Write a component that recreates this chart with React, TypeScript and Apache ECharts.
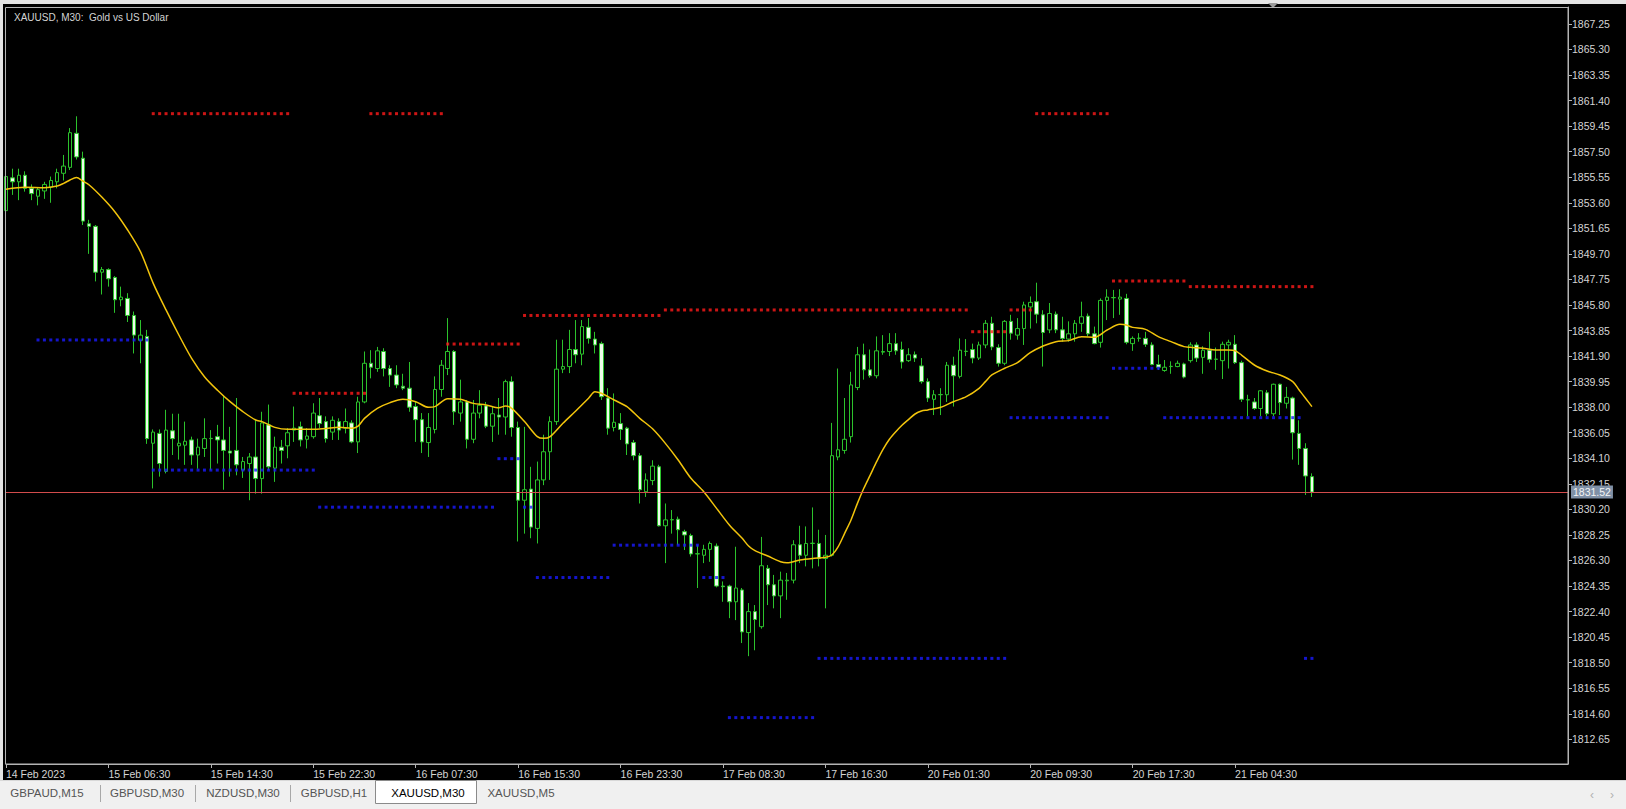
import React, { useEffect, useRef } from "react";
import * as echarts from "echarts";

const xLabels = [
  "14 Feb 2023", "15 Feb 06:30", "15 Feb 14:30", "15 Feb 22:30", "16 Feb 07:30",
  "16 Feb 15:30", "16 Feb 23:30", "17 Feb 08:30", "17 Feb 16:30", "20 Feb 01:30",
  "20 Feb 09:30", "20 Feb 17:30", "21 Feb 04:30",
];

const yTicks = [
  1812.65, 1814.6, 1816.55, 1818.5, 1820.45, 1822.4, 1824.35, 1826.3, 1828.25, 1830.2,
  1832.15, 1834.1, 1836.05, 1838.0, 1839.95, 1841.9, 1843.85, 1845.8, 1847.75, 1849.7,
  1851.65, 1853.6, 1855.55, 1857.5, 1859.45, 1861.4, 1863.35, 1865.3, 1867.25,
];

// [open, close, low, high]
const candles = [
  [1853.0, 1855.6, 1852.8, 1856.3], [1855.5, 1855.2, 1854.2, 1856.2], [1855.2, 1855.7, 1853.8, 1856.2],
  [1855.7, 1854.7, 1854.45, 1856.0], [1854.7, 1854.3, 1853.8, 1855.0], [1854.1, 1854.6, 1853.4, 1854.8],
  [1854.5, 1855.0, 1853.9, 1855.2], [1854.8, 1855.3, 1853.6, 1855.6], [1855.2, 1855.9, 1854.7, 1856.2],
  [1855.85, 1856.4, 1855.3, 1857.25], [1856.3, 1858.95, 1856.1, 1859.3], [1858.9, 1857.1, 1856.9, 1860.2],
  [1857.0, 1852.2, 1851.9, 1857.5], [1852.0, 1851.8, 1849.7, 1852.3], [1851.8, 1848.3, 1847.6, 1851.9],
  [1848.3, 1848.5, 1846.6, 1848.7], [1848.5, 1847.8, 1847.2, 1848.6], [1847.9, 1846.2, 1845.2, 1848.0],
  [1846.2, 1846.4, 1845.7, 1847.2], [1846.3, 1845.0, 1844.5, 1846.7], [1845.0, 1843.5, 1842.1, 1845.3],
  [1843.1, 1843.5, 1841.35, 1844.65], [1843.4, 1835.6, 1835.2, 1843.9], [1835.25, 1836.1, 1831.8, 1836.3],
  [1836.0, 1833.7, 1832.7, 1836.3], [1833.1, 1836.25, 1832.95, 1837.8], [1836.2, 1835.6, 1834.35, 1837.5],
  [1835.05, 1835.25, 1834.0, 1837.5], [1835.1, 1835.4, 1833.6, 1836.9], [1835.5, 1834.35, 1833.6, 1835.75],
  [1834.35, 1834.95, 1833.3, 1835.6], [1834.85, 1835.6, 1834.2, 1837.15], [1835.6, 1835.62, 1833.2, 1836.25],
  [1835.75, 1835.5, 1833.7, 1836.65], [1835.5, 1834.7, 1831.7, 1838.9], [1834.65, 1834.5, 1832.7, 1836.5],
  [1834.7, 1833.6, 1832.8, 1838.7], [1833.2, 1833.85, 1832.6, 1834.2], [1833.7, 1834.2, 1830.9, 1834.5],
  [1834.2, 1832.55, 1831.4, 1837.0], [1832.55, 1836.8, 1831.4, 1837.65], [1836.65, 1833.45, 1833.2, 1838.2],
  [1833.35, 1834.95, 1832.3, 1835.75], [1834.95, 1834.7, 1833.7, 1835.5], [1835.05, 1836.05, 1834.1, 1836.4],
  [1836.25, 1836.4, 1835.35, 1838.05], [1836.5, 1835.5, 1835.0, 1836.9], [1835.55, 1835.8, 1834.85, 1836.4],
  [1835.75, 1837.55, 1835.6, 1838.3], [1837.35, 1836.75, 1836.4, 1838.7], [1836.9, 1835.6, 1835.3, 1837.3],
  [1836.1, 1837.0, 1835.5, 1837.3], [1836.9, 1836.25, 1835.5, 1837.15], [1836.4, 1836.9, 1836.0, 1837.9],
  [1836.8, 1835.35, 1835.25, 1837.0], [1835.35, 1838.4, 1834.5, 1838.8], [1838.4, 1841.35, 1838.3, 1842.25],
  [1841.35, 1841.05, 1840.2, 1842.35], [1840.95, 1842.3, 1840.7, 1842.6], [1842.25, 1840.95, 1840.35, 1842.5],
  [1840.95, 1840.45, 1839.55, 1841.2], [1840.45, 1839.7, 1839.45, 1841.2], [1839.6, 1839.45, 1839.3, 1840.55],
  [1839.45, 1838.0, 1837.65, 1841.45], [1838.05, 1837.05, 1835.35, 1838.4], [1837.05, 1835.35, 1834.5, 1837.55],
  [1835.3, 1836.45, 1834.2, 1837.55], [1836.3, 1839.35, 1836.0, 1840.35], [1839.35, 1841.2, 1838.8, 1841.6],
  [1840.95, 1842.25, 1840.45, 1844.8], [1842.25, 1837.65, 1836.65, 1842.35], [1837.55, 1838.4, 1836.9, 1840.1],
  [1838.4, 1835.55, 1834.85, 1838.55], [1835.55, 1837.55, 1835.25, 1838.55], [1837.55, 1838.15, 1837.15, 1839.3],
  [1838.1, 1836.55, 1836.4, 1838.4], [1836.55, 1837.5, 1835.35, 1838.05], [1837.4, 1837.25, 1835.9, 1838.7],
  [1837.25, 1839.95, 1835.9, 1840.1], [1839.95, 1836.45, 1835.75, 1840.35], [1836.45, 1830.9, 1827.75, 1836.9],
  [1830.9, 1831.7, 1828.35, 1836.5], [1831.75, 1828.85, 1828.0, 1833.45], [1828.75, 1832.45, 1827.6, 1833.85],
  [1832.45, 1834.6, 1832.05, 1835.9], [1834.6, 1836.9, 1832.45, 1837.3], [1836.9, 1840.9, 1836.65, 1843.15],
  [1840.9, 1841.1, 1840.6, 1843.15], [1841.1, 1842.4, 1840.6, 1843.9], [1842.4, 1842.0, 1841.35, 1844.65],
  [1842.05, 1844.15, 1841.2, 1844.65], [1844.1, 1843.25, 1842.85, 1844.8], [1843.2, 1842.75, 1842.1, 1843.75],
  [1842.85, 1838.8, 1838.55, 1843.0], [1838.7, 1836.4, 1835.9, 1839.45], [1836.45, 1836.85, 1836.15, 1839.05],
  [1836.75, 1836.3, 1835.5, 1837.55], [1836.4, 1835.2, 1834.35, 1836.5], [1835.3, 1834.3, 1833.95, 1835.5],
  [1834.3, 1831.7, 1830.65, 1834.5], [1831.55, 1832.45, 1831.15, 1832.95], [1832.4, 1833.5, 1832.05, 1833.95],
  [1833.45, 1828.95, 1828.9, 1833.6], [1828.95, 1829.4, 1826.1, 1830.65], [1829.4, 1829.42, 1828.35, 1830.15],
  [1829.45, 1828.65, 1827.5, 1829.65], [1828.5, 1828.25, 1827.1, 1828.65], [1828.2, 1826.8, 1826.6, 1828.35],
  [1826.8, 1826.82, 1824.2, 1827.5], [1826.7, 1827.15, 1826.1, 1827.5], [1827.15, 1827.6, 1826.2, 1827.75],
  [1827.4, 1824.35, 1824.25, 1827.6], [1824.35, 1824.3, 1823.15, 1824.7], [1824.35, 1823.15, 1821.9, 1824.45],
  [1823.15, 1824.2, 1821.75, 1827.35], [1824.05, 1820.85, 1820.0, 1824.2], [1820.8, 1822.4, 1819.0, 1823.05],
  [1822.4, 1821.8, 1819.45, 1822.9], [1821.25, 1825.9, 1821.1, 1828.1], [1825.7, 1824.45, 1822.9, 1825.95],
  [1824.45, 1823.6, 1822.65, 1825.2], [1823.6, 1824.8, 1821.9, 1825.45], [1824.75, 1824.8, 1823.3, 1825.35],
  [1824.8, 1827.5, 1824.55, 1827.85], [1827.5, 1826.7, 1826.1, 1828.95], [1826.7, 1827.6, 1825.85, 1828.9],
  [1827.6, 1827.62, 1825.7, 1830.35], [1827.6, 1826.45, 1825.85, 1828.65], [1826.45, 1826.7, 1822.65, 1828.25],
  [1826.7, 1834.3, 1826.6, 1836.8], [1834.2, 1834.75, 1833.95, 1840.95], [1834.7, 1835.55, 1834.45, 1838.7],
  [1835.75, 1839.7, 1835.3, 1840.7], [1839.5, 1842.0, 1839.3, 1842.6], [1842.0, 1840.85, 1840.1, 1842.85],
  [1840.85, 1840.4, 1840.25, 1842.4], [1840.4, 1842.3, 1840.2, 1843.4], [1842.2, 1842.25, 1842.0, 1843.5],
  [1842.25, 1842.85, 1841.9, 1843.65], [1842.85, 1842.3, 1842.0, 1843.65], [1842.4, 1841.45, 1840.95, 1843.0],
  [1841.55, 1842.0, 1841.45, 1842.5], [1842.0, 1841.75, 1841.45, 1842.25], [1841.15, 1839.95, 1839.8, 1841.75],
  [1839.95, 1838.7, 1838.4, 1840.2], [1838.6, 1838.95, 1837.4, 1839.3], [1838.95, 1838.97, 1837.4, 1839.45],
  [1838.95, 1841.2, 1838.4, 1841.45], [1841.2, 1840.4, 1838.05, 1841.85], [1840.35, 1842.35, 1840.2, 1843.25],
  [1842.25, 1842.27, 1841.9, 1843.2], [1842.4, 1841.75, 1841.35, 1842.85], [1841.75, 1842.75, 1841.6, 1843.0],
  [1842.75, 1844.4, 1842.5, 1844.65], [1844.4, 1842.6, 1842.35, 1844.9], [1842.55, 1841.35, 1841.1, 1842.8],
  [1841.35, 1844.55, 1841.2, 1844.65], [1844.55, 1843.65, 1843.15, 1845.05], [1843.5, 1844.0, 1843.15, 1844.8],
  [1844.0, 1845.8, 1842.75, 1846.05], [1845.65, 1846.0, 1844.0, 1846.45], [1846.05, 1845.1, 1844.4, 1847.5],
  [1845.05, 1843.7, 1841.1, 1845.4], [1843.9, 1845.15, 1843.65, 1845.95], [1845.1, 1843.9, 1843.65, 1845.3],
  [1843.9, 1843.25, 1843.0, 1844.9], [1843.2, 1843.6, 1843.0, 1844.55], [1843.6, 1844.4, 1843.0, 1844.65],
  [1844.4, 1844.9, 1843.75, 1846.05], [1844.95, 1843.6, 1843.4, 1845.15], [1843.6, 1842.85, 1842.8, 1844.15],
  [1842.95, 1846.15, 1842.55, 1846.3], [1846.15, 1846.4, 1844.65, 1847.0], [1846.35, 1846.37, 1844.8, 1846.95],
  [1846.25, 1846.4, 1845.05, 1847.0], [1846.3, 1842.95, 1842.8, 1846.65], [1842.85, 1843.25, 1842.3, 1843.4],
  [1843.25, 1843.27, 1843.0, 1843.65], [1843.25, 1842.8, 1842.6, 1843.75], [1842.75, 1841.25, 1841.2, 1842.95],
  [1841.25, 1841.05, 1840.85, 1842.0], [1840.8, 1841.05, 1840.7, 1841.6], [1841.1, 1841.12, 1840.55, 1841.5],
  [1841.1, 1841.35, 1841.05, 1841.55], [1841.3, 1840.3, 1840.2, 1841.4], [1841.55, 1842.75, 1841.4, 1842.95],
  [1842.75, 1841.75, 1841.45, 1842.95], [1841.8, 1842.35, 1840.55, 1842.65], [1842.35, 1841.65, 1841.4, 1843.75],
  [1841.65, 1841.67, 1840.85, 1842.55], [1841.55, 1842.8, 1840.15, 1843.0], [1842.75, 1842.95, 1840.95, 1843.15],
  [1842.8, 1841.4, 1841.3, 1843.5], [1841.4, 1838.6, 1838.4, 1841.55], [1838.55, 1838.57, 1837.3, 1838.95],
  [1838.4, 1837.9, 1837.8, 1838.7], [1837.9, 1839.25, 1837.3, 1839.3], [1839.1, 1837.5, 1837.3, 1839.3],
  [1837.5, 1839.75, 1837.3, 1839.8], [1839.75, 1838.35, 1837.4, 1839.8], [1838.3, 1838.75, 1837.9, 1839.55],
  [1838.7, 1836.05, 1834.0, 1838.8], [1836.0, 1834.85, 1833.6, 1837.0], [1834.85, 1832.75, 1831.3, 1835.25],
  [1832.7, 1831.52, 1831.15, 1832.95],
];

// moving average readings: [bar index, value]
const maPoints = [
  [0, 1854.63], [3, 1854.78], [6, 1854.75], [8, 1854.88], [9, 1855.08], [10, 1855.34], [11, 1855.52],
  [12, 1855.26], [13, 1854.96], [15, 1854.02], [17, 1852.92], [19, 1851.52], [21, 1849.87], [23, 1847.45],
  [25, 1845.42], [27, 1843.51], [29, 1841.73], [31, 1840.33], [33, 1839.31], [35, 1838.42], [37, 1837.66],
  [39, 1837.02], [40, 1836.9], [42, 1836.46], [44, 1836.31], [46, 1836.31], [48, 1836.31], [50, 1836.38],
  [52, 1836.46], [54, 1836.39], [55, 1836.56], [56, 1837.15], [58, 1837.91], [60, 1838.35], [62, 1838.6],
  [64, 1838.42], [66, 1837.99], [67, 1838.04], [69, 1838.65], [71, 1838.6], [73, 1838.29], [75, 1838.17],
  [77, 1837.96], [78, 1838.09], [79, 1837.91], [81, 1836.9], [83, 1835.75], [84, 1835.62], [85, 1835.75],
  [87, 1836.77], [89, 1837.71], [91, 1838.68], [92, 1839.18], [93, 1839.06], [95, 1838.55], [97, 1838.04],
  [99, 1837.15], [101, 1836.35], [103, 1835.24], [105, 1833.97], [107, 1832.57], [109, 1831.55],
  [111, 1830.28], [113, 1829.01], [115, 1827.99], [116, 1827.41], [117, 1827.05], [119, 1826.64],
  [121, 1826.21], [122, 1826.13], [124, 1826.34], [126, 1826.46], [128, 1826.54], [129, 1826.72],
  [130, 1827.36], [131, 1828.37], [132, 1829.39], [133, 1830.66], [134, 1831.81], [135, 1832.82],
  [136, 1833.84], [137, 1834.78], [138, 1835.55], [139, 1836.13], [140, 1836.64], [141, 1837.07],
  [142, 1837.48], [143, 1837.71], [144, 1837.79], [146, 1837.99], [148, 1838.42], [150, 1838.8],
  [152, 1839.44], [153, 1839.95], [154, 1840.46], [156, 1840.97], [158, 1841.4], [160, 1842.16],
  [162, 1842.67], [164, 1843.0], [166, 1843.08], [168, 1843.38], [170, 1843.33], [172, 1843.89],
  [174, 1844.32], [175, 1844.27], [176, 1844.09], [178, 1843.94], [180, 1843.38], [182, 1843.0],
  [184, 1842.62], [185, 1842.57], [187, 1842.49], [189, 1842.36], [191, 1842.36], [192, 1842.31],
  [193, 1841.98], [195, 1841.22], [197, 1840.76], [199, 1840.46], [201, 1839.95], [202, 1839.31],
  [203, 1838.68], [204, 1838.04],
];

// dotted levels: [first bar, last bar, price]
const redLevels = [
  [23, 44, 1860.4], [57, 68, 1860.4], [161, 172, 1860.4], [45, 56, 1839.06], [69, 80, 1842.82],
  [81, 102, 1845.0], [103, 150, 1845.42], [151, 156, 1843.76], [157, 160, 1845.42],
  [173, 184, 1847.63], [185, 204, 1847.2],
];
const blueLevels = [
  [5, 22, 1843.13], [23, 48, 1833.2], [49, 76, 1830.37], [77, 80, 1834.07], [81, 82, 1830.37],
  [83, 94, 1825.0], [95, 108, 1827.47], [109, 112, 1825.0], [113, 126, 1814.31], [127, 156, 1818.83],
  [157, 172, 1837.2], [173, 180, 1840.97], [181, 202, 1837.2], [203, 204, 1818.83],
];

const lastPrice = 1831.52;
const tabs = ["GBPAUD,M15", "GBPUSD,M30", "NZDUSD,M30", "GBPUSD,H1", "XAUUSD,M30", "XAUUSD,M5"];
const activeTab = 4;
const TOTAL_SLOTS = 245;
const LABEL_STEP = 16;

function levelDots(levels: number[][]) {
  const out: number[][] = [];
  for (const [a, b, p] of levels) for (let i = a; i <= b; i++) out.push([i, p]);
  return out;
}

const FONT = "Liberation Sans";

export default function App() {
  const ref = useRef<HTMLDivElement>(null);
  useEffect(() => {
    const chart = echarts.init(ref.current!, null, { renderer: "svg" });
    const cats = Array.from({ length: TOTAL_SLOTS }, (_, i) => String(i));
    const showLabel = (idx: number) => idx % LABEL_STEP === 0 && idx / LABEL_STEP < xLabels.length;

    const tabCenters = [47, 147, 243, 334, 428, 521];
    const graphic: any[] = [
      { type: "rect", shape: { x: 0, y: 0, width: 1626, height: 4 }, style: { fill: "#e4e4e4" }, silent: true },
      { type: "rect", shape: { x: 0, y: 0, width: 3, height: 780 }, style: { fill: "#e4e4e4" }, silent: true },
      { type: "polygon", shape: { points: [[1268, 3], [1278, 3], [1273, 8]] }, style: { fill: "#9a9a9a" }, silent: true },
      {
        type: "rect", z: 100, shape: { x: 5.5, y: 7.5, width: 1562.5, height: 756.5 },
        style: { fill: "none", stroke: "#b4b4b4", lineWidth: 1 }, silent: true,
      },
      { type: "rect", shape: { x: 0, y: 780, width: 1626, height: 29 }, style: { fill: "#f0f0f0" }, silent: true },
      { type: "line", shape: { x1: 0, y1: 780.5, x2: 1626, y2: 780.5 }, style: { stroke: "#d8d8d8", lineWidth: 1 }, silent: true },
      {
        type: "rect", shape: { x: 375.5, y: 780.5, width: 101, height: 23 },
        style: { fill: "#ffffff", stroke: "#8a8a8a", lineWidth: 1 }, silent: true,
      },
    ];
    [100, 195, 290].forEach((x) =>
      graphic.push({
        type: "line", shape: { x1: x + 0.5, y1: 785, x2: x + 0.5, y2: 802 },
        style: { stroke: "#a8a8a8", lineWidth: 1 }, silent: true,
      })
    );
    tabs.forEach((t, i) =>
      graphic.push({
        type: "text", x: tabCenters[i], y: 793,
        style: {
          text: t, fill: i === activeTab ? "#000000" : "#555555", font: `11.5px "${FONT}"`,
          align: "center", verticalAlign: "middle",
        },
        silent: true,
      })
    );
    graphic.push(
      { type: "text", x: 1592, y: 795, style: { text: "‹", fill: "#b0b0b0", font: `12px "${FONT}"`, align: "center", verticalAlign: "middle" }, silent: true },
      { type: "text", x: 1612, y: 795, style: { text: "›", fill: "#b0b0b0", font: `12px "${FONT}"`, align: "center", verticalAlign: "middle" }, silent: true }
    );

    chart.setOption({
      animation: false,
      backgroundColor: "#000000",
      textStyle: { fontFamily: FONT },
      title: {
        text: "XAUUSD, M30:  Gold vs US Dollar",
        left: 9, top: 7,
        textStyle: { color: "#d4d4d4", fontSize: 10, fontWeight: "normal", fontFamily: FONT },
      },
      grid: { left: 6, top: 7, width: 1562, height: 757, show: false },
      xAxis: {
        type: "category",
        data: cats,
        boundaryGap: false,
        axisLine: { show: true, lineStyle: { color: "#b4b4b4", width: 1 } },
        axisTick: { show: true, interval: (idx: number) => showLabel(idx), length: 4, lineStyle: { color: "#b4b4b4" } },
        axisLabel: {
          interval: (idx: number) => showLabel(idx),
          formatter: (_v: string, idx: number) => (showLabel(idx) ? xLabels[idx / LABEL_STEP] : ""),
          color: "#d4d4d4", fontSize: 10.5, align: "left", margin: 4, fontFamily: FONT,
        },
        splitLine: { show: false },
      },
      yAxis: {
        type: "value",
        position: "right",
        min: 1810.77,
        max: 1868.54,
        axisLine: { show: true, lineStyle: { color: "#b4b4b4", width: 1 } },
        axisTick: { show: true, customValues: yTicks, length: 4, lineStyle: { color: "#b4b4b4" } },
        axisLabel: {
          customValues: yTicks,
          formatter: (v: number) => v.toFixed(2),
          color: "#d4d4d4", fontSize: 10.5, margin: 4, fontFamily: FONT,
        },
        splitLine: { show: false },
      },
      graphic,
      series: [
        {
          type: "candlestick",
          data: candles,
          barWidth: 4,
          z: 2,
          itemStyle: {
            color: "#000000",
            color0: "#eefcea",
            borderColor: "#2cc22c",
            borderColor0: "#2cc22c",
            borderColorDoji: "#2cc22c",
            borderWidth: 1,
          },
          markLine: {
            silent: true,
            symbol: ["none", "none"],
            animation: false,
            data: [{ yAxis: lastPrice }],
            lineStyle: { color: "#d24c4c", width: 1, type: "solid" },
            label: {
              show: true, position: "end", formatter: lastPrice.toFixed(2),
              backgroundColor: "#7f90a6", color: "#f4f4f4", fontSize: 10.5, fontFamily: FONT,
              padding: [1, 2, 1, 2], distance: 3,
            },
          },
        },
        {
          type: "line",
          data: maPoints,
          smooth: 0.3,
          showSymbol: false,
          symbol: "none",
          z: 3,
          lineStyle: { color: "#f2c40c", width: 1.5 },
        },
        {
          type: "scatter",
          data: levelDots(redLevels),
          symbol: "rect",
          symbolSize: 3,
          z: 4,
          itemStyle: { color: "#ff1a1a" },
        },
        {
          type: "scatter",
          data: levelDots(blueLevels),
          symbol: "rect",
          symbolSize: 3,
          z: 4,
          itemStyle: { color: "#1a1aff" },
        },
      ],
    });
    return () => chart.dispose();
  }, []);
  return <div ref={ref} style={{ position: "absolute", left: 0, top: 0, width: 1626, height: 809 }} />;
}
